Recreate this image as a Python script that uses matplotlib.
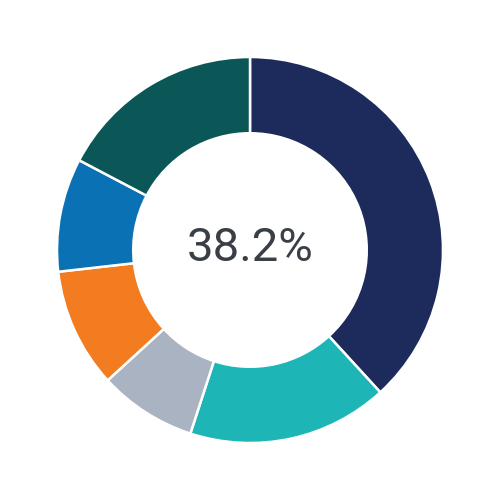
import matplotlib.pyplot as plt

# データ
labels = ["A", "B", "C", "D", "E", "F"]
values = [38.2, 16.8, 8.2, 10.0, 9.5, 17.3]
colors = ["#1d2b5c", "#1db5b6", "#a9b3c2", "#f37b20", "#0a72b4", "#0b5657"]
center_text = "38.2%"

fig = plt.figure(figsize=(5, 5), dpi=100)
ax = fig.add_axes([0, 0, 1, 1])

ax.pie(values, colors=colors, startangle=90, counterclock=False,
       radius=1.0, wedgeprops=dict(width=0.395, edgecolor="white", linewidth=1.8))
ax.text(0, 0.01, center_text, ha="center", va="center", fontsize=34,
        color="#3a3f47", family=["Roboto", "DejaVu Sans"])

lim = 250 / 193
ax.set_xlim(-lim, lim)
ax.set_ylim(-lim, lim)
ax.set_aspect("equal")
ax.axis("off")

fig.savefig("out.png", dpi=100, facecolor="white")
